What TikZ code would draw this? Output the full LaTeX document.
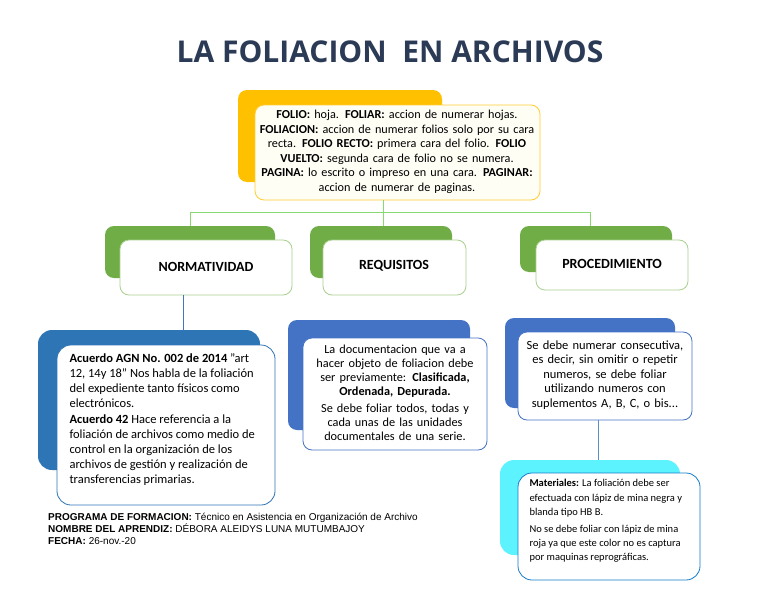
\documentclass[tikz,border=0pt]{standalone}
\usepackage{fontspec}
\setmainfont{Carlito}
\newfontfamily\ftitle{Open Sans}
\newfontfamily\fnarrow{Liberation Sans}
\begin{document}
\begin{tikzpicture}[x=1pt,y=-1pt,
  back/.style={rounded corners=9pt},
  front/.style={draw,line width=0.8pt,fill=white,rounded corners=9pt},
  txt/.style={align=center,text width=#1},
  ln/.style={line width=0.9pt}]
\useasboundingbox (0,0) rectangle (768,594);
\fill[white] (0,0) rectangle (768,594);
\definecolor{gold}{HTML}{FFC000}
\definecolor{grn}{HTML}{70AD47}
\definecolor{lgrn}{HTML}{A9D18E}
\definecolor{blu}{HTML}{2E75B6}
\definecolor{blu2}{HTML}{4472C4}
\definecolor{cyn}{HTML}{5CF3FF}
\definecolor{ttl}{HTML}{2B3A55}
% title
\node[font=\ftitle\bfseries\fontsize{30}{32}\selectfont,text=ttl] (title) at (390,52) {LA FOLIACION\ \ EN ARCHIVOS};
% top
\fill[gold,back] (238,90) rectangle (442,182);
\draw[front,draw=gold!80,fill=yellow!4] (255,105) rectangle (540,200);
\node[txt=290pt,font=\fontsize{12.2}{14.5}\selectfont] (def) at (397,152) {\textbf{FOLIO:} hoja. \textbf{FOLIAR:} accion de numerar hojas.\\ \textbf{FOLIACION:} accion de numerar folios solo por su cara\\recta. \textbf{FOLIO RECTO:} primera cara del folio. \textbf{FOLIO}\\\textbf{VUELTO:} segunda cara de folio no se numera.\\ \textbf{PAGINA:} lo escrito o impreso en una cara. \textbf{PAGINAR:}\\accion de numerar de paginas.};
\coordinate (t0) at (383,200);
\coordinate (t1) at (383,212);
\coordinate (tl) at (190,212);
\coordinate (tr) at (590,212);
\draw[ln,lgrn!80!green] (t0)--(t1) (tl)--(tr) (tl)--++(0,14) (t1)--++(0,14) (tr)--++(0,14);
% green heads
\tikzset{head/.style={font=\bfseries\fontsize{14}{16}\selectfont}}
\fill[grn,back] (105,226) rectangle (275,278);
\draw[front,draw=lgrn] (120,240) rectangle (292,295);
\node[head] (nor) at (206,267) {NORMATIVIDAD};
\fill[grn,back] (310,226) rectangle (452,278);
\draw[front,draw=lgrn] (323,240) rectangle (466,295);
\node[head] (req) at (394,266) {REQUISITOS};
\fill[grn,back] (520,226) rectangle (672,272);
\draw[front,draw=lgrn] (536,240) rectangle (688,290);
\node[head] (pro) at (612,264) {PROCEDIMIENTO};
% blue boxes
\draw[ln,blu2] (183,295)--(183,330);
\fill[blu,back,rounded corners=14pt] (38,330) rectangle (260,470);
\draw[front,draw=blu,rounded corners=14pt] (57,345) rectangle (275,505);
\node[align=left,font=\fontsize{12.5}{15.2}\selectfont,anchor=north west] (n1) at (66,350) {\textbf{Acuerdo AGN No. 002 de 2014} "art\\12, 14y 18" Nos habla de la foliación\\del expediente tanto físicos como\\electrónicos.\\\textbf{Acuerdo 42} Hace referencia a la\\foliación de archivos como medio de\\control en la organización de los\\archivos de gestión y realización de\\transferencias primarias.};
\fill[blu2,back] (288,320) rectangle (470,430);
\draw[front,draw=blu2] (303,338) rectangle (487,450);
\node[txt=185pt,font=\fontsize{12.3}{14}\selectfont] (r1) at (395,393) {La documentacion que va a\\hacer objeto de foliacion debe\\ser previamente: \textbf{Clasificada,}\\\textbf{Ordenada, Depurada.}\\[3pt] Se debe foliar todos, todas y\\cada unas de las unidades\\documentales de una serie.};
\fill[blu2,back] (505,318) rectangle (675,408);
\draw[front,draw=blu2] (518,332) rectangle (692,420);
\node[txt=175pt,font=\fontsize{12.5}{14.5}\selectfont] (p1) at (605,375) {Se debe numerar consecutiva,\\es decir, sin omitir o repetir\\numeros, se debe foliar\\utilizando numeros con\\suplementos A, B, C, o bis...};
\draw[ln,blu!80] (598,420)--(598,460);
\fill[cyn,back,rounded corners=14pt] (500,460) rectangle (680,555);
\draw[front,draw=cyan!60!blue,rounded corners=14pt] (518,473) rectangle (700,580);
\node[align=left,font=\fontsize{10.5}{14.2}\selectfont,anchor=north west] (m1) at (526,476) {\textbf{Materiales:} La foliación debe ser\\efectuada con lápiz de mina negra y\\blanda tipo HB B.\\[3pt]No se debe foliar con lápiz de mina\\roja ya que este color no es captura\\por maquinas reprográficas.};
% footer
\node[align=left,anchor=north west,font=\fnarrow\fontsize{10}{12}\selectfont,inner sep=0pt] (foot) at (48,513) {\textbf{PROGRAMA DE FORMACION:} Técnico en Asistencia en Organización de Archivo\\\textbf{NOMBRE DEL APRENDIZ:} DÉBORA ALEIDYS LUNA MUTUMBAJOY\\\textbf{FECHA:} 26-nov.-20};
\end{tikzpicture}
\end{document}
